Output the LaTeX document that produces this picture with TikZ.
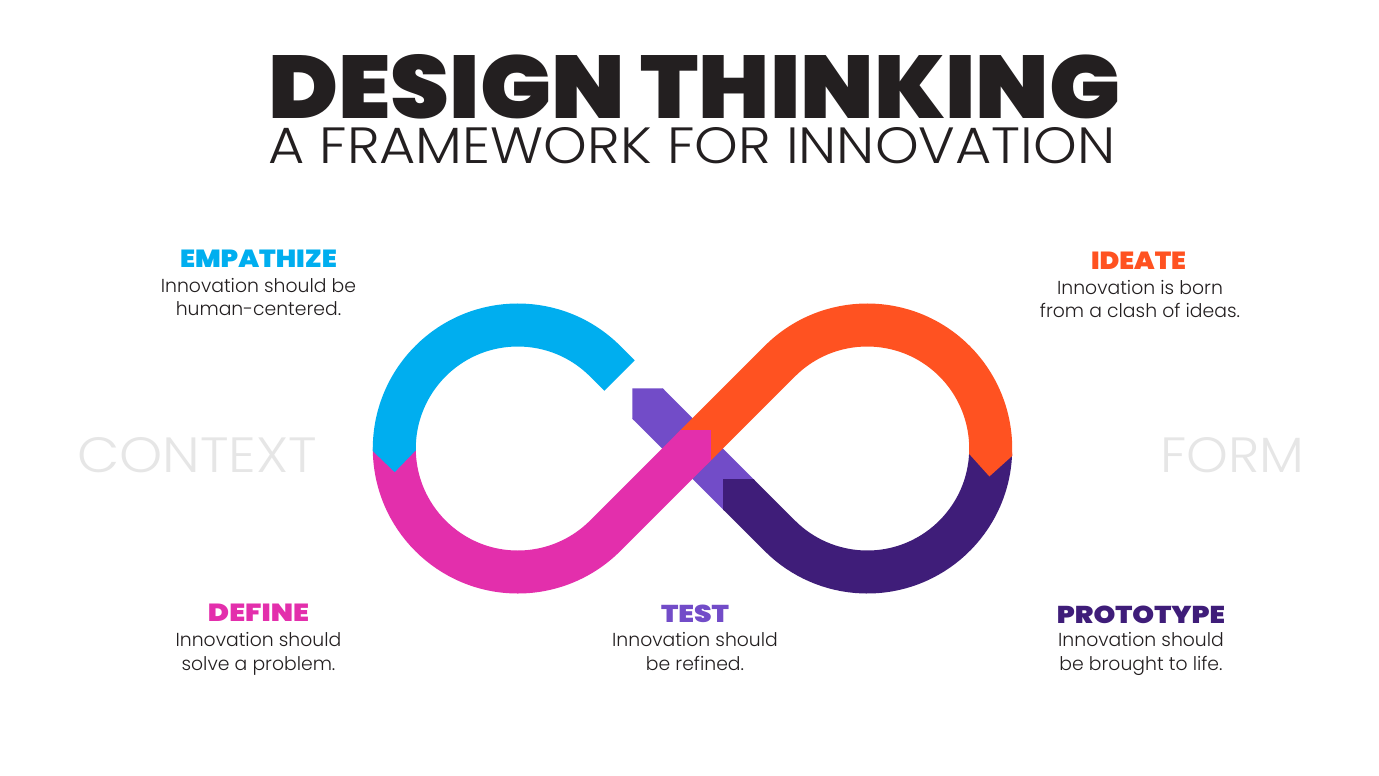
\documentclass[tikz,border=0pt]{standalone}
\usepackage{fontspec}
\usetikzlibrary{calc}
\IfFontExistsTF{Poppins Black}{\newfontfamily\heavyfont{Poppins Black}}{%
  \IfFontExistsTF{Poppins ExtraBold}{\newfontfamily\heavyfont{Poppins ExtraBold}}{%
    \newfontfamily\heavyfont{Poppins}[FakeBold=2.5]}}
\IfFontExistsTF{Poppins Light}{\newfontfamily\lightfont{Poppins Light}}{%
  \newfontfamily\lightfont{Poppins}}
\newcommand\bodyfont{\lightfont\fontsize{18.8}{22}\selectfont}
\definecolor{cEmp}{HTML}{00AEEF}
\definecolor{cDef}{HTML}{E32FAC}
\definecolor{cIde}{HTML}{FF5221}
\definecolor{cTes}{HTML}{724CC8}
\definecolor{cPro}{HTML}{3F1D79}
\definecolor{cInk}{HTML}{231F20}
\definecolor{cGhost}{HTML}{E6E6E6}
\begin{document}
\begin{tikzpicture}[x=1pt,y=-1pt,
  band/.style={line width=43pt},
  heading/.style={inner sep=0pt, anchor=base},
  body/.style={inner sep=0pt, anchor=base, text=cInk, font=\bodyfont},
  ghost/.style={inner sep=0pt, anchor=base west, text=cGhost},
]
\useasboundingbox (0,0) rectangle (1379,776);
\fill[white] (0,0) rectangle (1379,776);

% title
\node[inner sep=0pt, anchor=base west, text=cInk] (title) at (268,118)
  {\raisebox{0pt}[\height][0pt]{\resizebox{852pt}{64pt}{\heavyfont DESIGN THINKING}}};
\node[inner sep=0pt, anchor=base west, text=cInk] (subtitle) at (268,163.5)
  {\raisebox{0pt}[35pt][0pt]{\resizebox{847pt}{36pt}{\lightfont A FRAMEWORK FOR INNOVATION}}};

% geometry of the loop
\coordinate (L) at (517.8,448.5);
\coordinate (R) at (867.2,448.5);
\coordinate (X) at (692.5,448.5);

% TEST (light purple)
\draw[band, cTes] ($(X)+(45:66)$) -- ($(X)+(-135:63.4)$);
\fill[cTes] ($(X)+(-135:61.4)+(-45:21.5)$) -- ($(X)+(-135:63.4)+(-45:21.5)$)
  -- ($(X)+(-135:84.9)$) -- ($(X)+(-135:63.4)+(135:21.5)$)
  -- ($(X)+(-135:61.4)+(135:21.5)$) -- cycle;

% PROTOTYPE (dark purple)
\draw[band, cPro] ($(R)+(2:123.5)$) arc[start angle=2, end angle=135, radius=123.5]
  -- ($(X)+(45:64.7)$);
\fill[cPro] ($(X)+(45:66.7)+(-45:21.5)$) -- ($(X)+(45:64.7)+(-45:21.5)$)
  -- ($(X)+(45:43.2)$) -- ($(X)+(45:64.7)+(135:21.5)$)
  -- ($(X)+(45:66.7)+(135:21.5)$) -- cycle;

% IDEATE (orange)
\draw[band, cIde] ($(X)+(135:2)$) -- ($(R)+(-135:123.5)$)
  arc[start angle=-135, end angle=3, radius=123.5];
\fill[cIde] ($(R)+(1.5:145)$) -- ($(R)+(3:145)$)
  -- ($(R)+(3:123.5)+(93:21.5)$) -- ($(R)+(3:102)$) -- ($(R)+(1.5:102)$) -- cycle;

% DEFINE (pink)
\draw[band, cDef] ($(L)+(180:123.5)$) arc[start angle=180, end angle=45, radius=123.5]
  -- ($(X)+(-45:4.5)$);
\fill[cDef] ($(X)+(-45:2.5)+(45:21.5)$) -- ($(X)+(-45:4.5)+(45:21.5)$)
  -- ($(X)+(-45:26)$) -- ($(X)+(-45:4.5)+(-135:21.5)$)
  -- ($(X)+(-45:2.5)+(-135:21.5)$) -- cycle;

% EMPATHIZE (cyan)
\draw[band, cEmp] ($(X)+(-135:103.2)$) -- ($(L)+(-45:123.5)$)
  arc[start angle=-45, end angle=-181, radius=123.5];
\fill[cEmp] ($(L)+(-179.5:145)$) -- ($(L)+(-181:145)$)
  -- ($(L)+(-181:123.5)+(-271:21.5)$) -- ($(L)+(-181:102)$)
  -- ($(L)+(-179.5:102)$) -- cycle;

% side words
\node[ghost] (context) at (77,472) {\resizebox{240pt}{35pt}{\lightfont CONTEXT}};
\node[ghost] (form) at (1160,472) {\resizebox{144pt}{35pt}{\lightfont FORM}};

% headings
\node[heading, text=cEmp] (emp) at (258.5,267) {\resizebox{157pt}{17.5pt}{\heavyfont EMPATHIZE}};
\node[heading, text=cIde] (ide) at (1138.5,269) {\resizebox{95pt}{17.5pt}{\heavyfont IDEATE}};
\node[heading, text=cDef] (def) at (258.5,621) {\resizebox{101pt}{17.5pt}{\heavyfont DEFINE}};
\node[heading, text=cTes] (tes) at (695,622) {\resizebox{68pt}{17.5pt}{\heavyfont TEST}};
\node[heading, text=cPro] (pro) at (1141,623) {\resizebox{168pt}{17.5pt}{\heavyfont PROTOTYPE}};

% body lines
\node[body] (emp1) at (258.5,292) {Innovation should be};
\node[body] (emp2) at (258.5,315) {human-centered.};
\node[body] (ide1) at (1140,294) {Innovation is born};
\node[body] (ide2) at (1140,317) {from a clash of ideas.};
\node[body] (def1) at (258.5,646) {Innovation should};
\node[body] (def2) at (258.5,670) {solve a problem.};
\node[body] (tes1) at (695,646) {Innovation should};
\node[body] (tes2) at (695,670) {be refined.};
\node[body] (pro1) at (1141,646) {Innovation should};
\node[body] (pro2) at (1141,670) {be brought to life.};
\end{tikzpicture}
\end{document}
